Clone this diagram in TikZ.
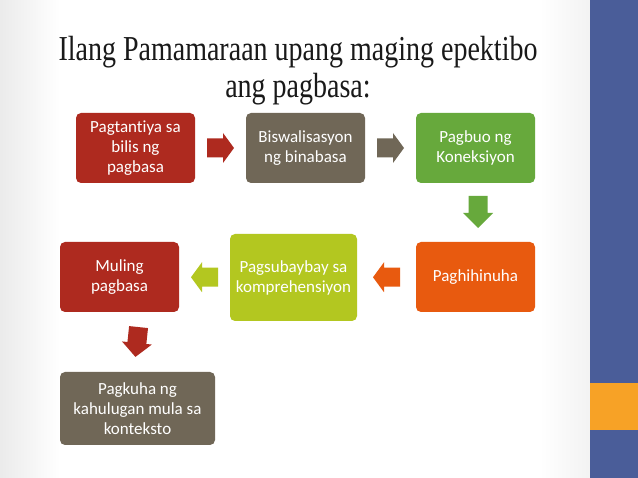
\documentclass[tikz,border=0pt]{standalone}
\usepackage{fontspec}
\setmainfont{Liberation Serif}
\setsansfont{Carlito}[Ligatures=NoCommon]
\usetikzlibrary{calc}

\definecolor{stepred}{HTML}{AE2A1F}
\definecolor{stepgray}{HTML}{706757}
\definecolor{stepgreen}{HTML}{67A93C}
\definecolor{steporange}{HTML}{E85A0F}
\definecolor{steplime}{HTML}{B3C720}
\definecolor{barblue}{HTML}{4A5D99}
\definecolor{barorange}{HTML}{F7A226}

\tikzset{
  stepbox/.style={fill=#1, rounded corners=5pt, text=white, align=center,
    inner sep=0pt, minimum width=119pt, minimum height=70pt,
    font=\sffamily\fontsize{17}{20}\selectfont},
  % block arrow: colour, length, head length
  pics/blockarrow/.style n args={3}{code={
    \fill[#1] (-#2/2,-9.5) -- (#2/2-#3,-9.5) -- (#2/2-#3,-15) -- (#2/2,0)
      -- (#2/2-#3,15) -- (#2/2-#3,9.5) -- (-#2/2,9.5) -- cycle;
  }},
  titletext/.style={font=\fontsize{35}{36}\selectfont, text=black!90, xscale=0.8}
}

\begin{document}
\begin{tikzpicture}[x=1pt, y=-1pt]
      \useasboundingbox (0,0) rectangle (638,478);
      % background and side bar
      \fill[white] (0,0) rectangle (590,478);
      \shade[left color=black!8, right color=white] (0,0) rectangle (60,478);
      \shade[left color=white, right color=black!5] (540,0) rectangle (590,478);
      \fill[barblue] (590,0) rectangle (638,478);
      \fill[barorange] (590,383) rectangle (638,430);
      % title
      \node[titletext] (title1) at (298,52) {Ilang Pamamaraan upang maging epektibo};
      \node[titletext] (title2) at (298,89) {ang pagbasa:};
      % steps
      \node[stepbox=stepred] (b1) at (135.5,148) {Pagtantiya sa\\bilis ng\\pagbasa};
      \node[stepbox=stepgray] (b2) at (305.5,148) {Biswalisasyon\\ng binabasa};
      \node[stepbox=stepgreen] (b3) at (475.5,148) {Pagbuo ng\\Koneksiyon};
      \node[stepbox=steporange] (b4) at (475.5,277) {Paghihinuha};
      \node[stepbox=steplime, minimum width=127pt, minimum height=87pt] (b5) at (293.5,277.5) {Pagsubaybay sa\\komprehensiyon};
      \node[stepbox=stepred] (b6) at (119.5,277) {Muling\\pagbasa};
      \node[stepbox=stepgray, minimum width=155pt, minimum height=73pt] (b7) at (137.5,408.5) {Pagkuha ng\\kahulugan mula sa\\konteksto};
      % arrows between steps
      \pic (a1) at ($(b1.east)!0.5!(b2.west)$) {blockarrow={stepred}{27}{11}};
      \pic (a2) at ($(b2.east)!0.5!(b3.west)$) {blockarrow={stepgray}{27}{11}};
      \pic[rotate=-90] (a3) at ($(b3.south)!0.5!(b4.north)+(2.5,-0.5)$) {blockarrow={stepgreen}{32}{15}};
      \pic[rotate=180] (a4) at ($(b4.west)!0.5!(b5.east)$) {blockarrow={steporange}{27}{11}};
      \pic[rotate=180] (a5) at ($(b5.west)!0.5!(b6.east)$) {blockarrow={steplime}{27}{11}};
      \pic[rotate=-96] (a6) at ($(b6.south)!0.5!(b7.north)+(8.5,0)$) {blockarrow={stepred}{30}{14}};
\end{tikzpicture}
\end{document}
